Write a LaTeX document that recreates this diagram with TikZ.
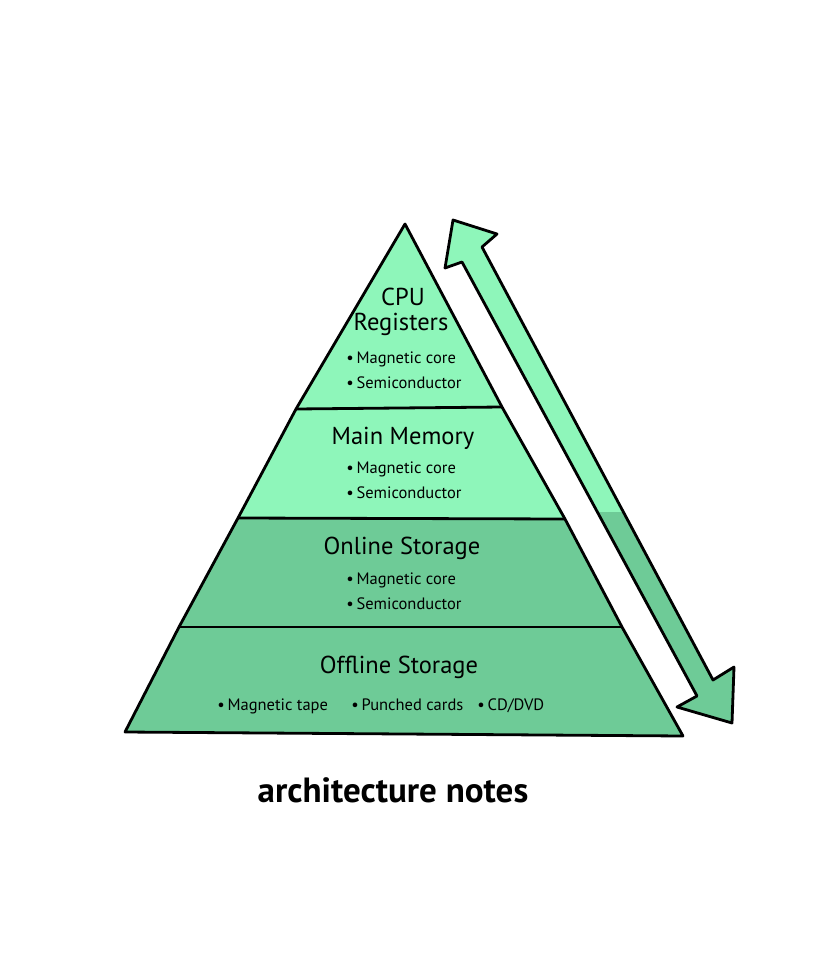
\documentclass[tikz,border=0pt]{standalone}
\usepackage{fontspec}
\setmainfont{PT Sans}
\usetikzlibrary{calc}

\definecolor{lightmint}{RGB}{142,246,186}
\definecolor{darkmint}{RGB}{110,203,151}

\begin{document}
\begin{tikzpicture}[x=1pt, y=-1pt, line width=2.8pt, line join=round,
  every node/.style={inner sep=0pt, font=\fontsize{16.5}{19}\selectfont},
  layer/.style={anchor=base, font=\fontsize{24.5}{28}\selectfont},
  item/.style={anchor=base west}]

\useasboundingbox (0,0) rectangle (831,963);

% pyramid corners
\coordinate (top) at (405,224);
\coordinate (l1) at (296,409);
\coordinate (r1) at (502,407);
\coordinate (l2) at (238,518);
\coordinate (r2) at (565,519);
\coordinate (l3) at (179,627);
\coordinate (r3) at (622,627);
\coordinate (bl) at (125,732);
\coordinate (br) at (683,736);

\fill[lightmint] (top) -- (r1) -- (r2) -- (l2) -- (l1) -- cycle;
\fill[darkmint] (l2) -- (r2) -- (r3) -- (br) -- (bl) -- (l3) -- cycle;
\draw (top) -- (r1) -- (r2) -- (r3) -- (br) -- (bl) -- (l3) -- (l2) -- (l1) -- cycle;
\draw (l1) -- (r1);
\draw (l2) -- (r2);
\draw (l3) -- (r3);

% double arrow on the right
\coordinate (tip1) at (453,220);
\coordinate (tb1) at (497,234);
\coordinate (ti1) at (482,247);
\coordinate (bi1) at (713,680);
\coordinate (bb1) at (734,667);
\coordinate (tip2) at (732,723);
\coordinate (bb2) at (677,707);
\coordinate (bi2) at (697,696);
\coordinate (ti2) at (462,262);
\coordinate (tb2) at (445,268);

\draw[fill=darkmint, path picture={\fill[lightmint] (0,0) rectangle (831,512);}]
  (tip1) -- (tb1) -- (ti1) -- (bi1) -- (bb1) -- (tip2) -- (bb2) -- (bi2) -- (ti2) -- (tb2) -- cycle;

% labels
\node[layer] (cpu) at (403,305) {CPU};
\node[layer] (reg) at (401,330) {Registers};
\node[item] (c1) at (345,363) {\textbullet\,Magnetic core};
\node[item] (c2) at (345,388) {\textbullet\,Semiconductor};

\node[layer] (mem) at (403,444) {Main Memory};
\node[item] (m1) at (345,473) {\textbullet\,Magnetic core};
\node[item] (m2) at (345,498) {\textbullet\,Semiconductor};

\node[layer] (onl) at (402,554) {Online Storage};
\node[item] (o1) at (345,584) {\textbullet\,Magnetic core};
\node[item] (o2) at (345,609) {\textbullet\,Semiconductor};

\node[layer] (off) at (399,673) {Offline Storage};
\node[item] (f1) at (216,710) {\textbullet\,Magnetic tape};
\node[item] (f2) at (350,710) {\textbullet\,Punched cards};
\node[item] (f3) at (476,710) {\textbullet\,CD/DVD};

\node[font=\fontsize{35}{40}\selectfont\bfseries] (title) at (393,790) {architecture notes};

\end{tikzpicture}
\end{document}
